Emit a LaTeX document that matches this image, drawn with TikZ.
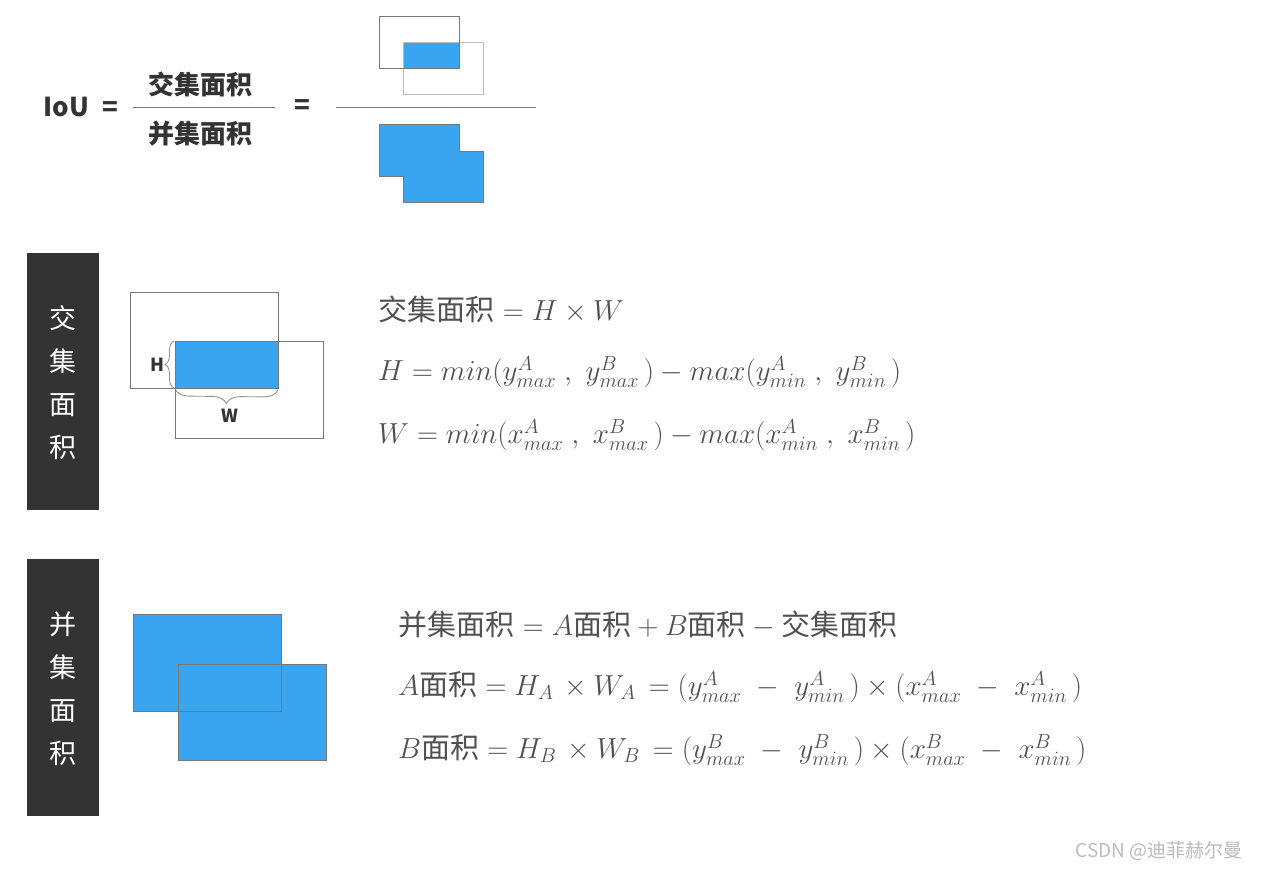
\RequirePackage{fix-cm}
\documentclass[tikz,border=0pt]{standalone}
\usepackage{amsmath}
\usepackage{fontspec}
\newfontfamily\cjk{Noto Sans CJK SC}
\usetikzlibrary{decorations.pathreplacing}
\definecolor{boxblue}{HTML}{39A4EF}
\definecolor{edgegray}{HTML}{777777}
\definecolor{lightedge}{HTML}{BBBBBB}
\definecolor{sidebar}{HTML}{333333}
\definecolor{inkgray}{HTML}{505050}
\tikzset{
  bluebox/.style={fill=boxblue, draw=edgegray, line width=1pt},
  emptybox/.style={draw=edgegray, line width=1pt},
  sidebox/.style={fill=sidebar, draw=none},
  sidetext/.style={text=white, font=\cjk\fontsize{27}{43}\selectfont, align=center},
  eqn/.style={anchor=west, text=inkgray, inner sep=0pt, font=\fontsize{29}{34}\selectfont},
  boldtext/.style={text=sidebar, font=\cjk\bfseries\fontsize{26}{30}\selectfont},
  bracelabel/.style={text=sidebar, font=\cjk\bfseries\fontsize{18}{20}\selectfont},
  fracline/.style={draw=edgegray, line width=1pt},
  brace/.style={decorate, decoration={brace, amplitude=#1}, draw=edgegray!80, line width=0.9pt}
}
\begin{document}
\begin{tikzpicture}[x=1pt, y=-1pt]
  \useasboundingbox (0,0) rectangle (1261,870);

  % IoU as a fraction
  \node[boldtext] (iou) at (81,107) {IoU\,\,\,=};
  \draw[fracline] (133,107) -- (275,107);
  \node[boldtext] (inter) at (200,84) {交集面积};
  \node[boldtext] (union) at (200,134) {并集面积};
  \node[boldtext] (eq) at (302,107) {=};
  \draw[fracline] (336,107) -- (536,107);

  % Small picture over the line
  \fill[boxblue] (403,42) rectangle (459,68);
  \draw[draw=lightedge, line width=1pt] (403,42) rectangle (483,94);
  \draw[draw=edgegray, line width=1pt] (379,16) rectangle (459,68);

  % Small picture under the line
  \draw[bluebox] (379,124) -| (459,151) -| (483,202) -| (403,176) -| cycle;

  % Intersection part
  \fill[sidebox] (27,253) rectangle (99,510);
  \node[sidetext] (side1) at (63,383) {交\\集\\面\\积};

  \draw[emptybox] (130,292) rectangle (278,388);
  \draw[emptybox] (175,341) rectangle (323,438);
  \draw[bluebox] (175,341) rectangle (278,388);
  \coordinate (hbot) at (175,388);
  \coordinate (htop) at (175,341);
  \coordinate (wright) at (278,389);
  \draw[brace=9pt] ([xshift=-1pt]hbot) -- ([xshift=-1pt]htop);
  \draw[brace=14pt] ([yshift=-1pt]wright) -- ([yshift=-1pt]hbot);
  \node[bracelabel] (hlabel) at (157,365) {H};
  \node[bracelabel] (wlabel) at (230,416) {W};

  \node[eqn] (area) at (378,309) {{\cjk 交集面积} $= H \times W$};
  \node[eqn] (heq) at (378,372) {$H = min(y^A_{max}\;,\ y^B_{max}\,) - max(y^A_{min}\;,\ y^B_{min}\,)$};
  \node[eqn] (weq) at (378,435) {$W = min(x^A_{max}\;,\ x^B_{max}\,) - max(x^A_{min}\;,\ x^B_{min}\,)$};

  % Union part
  \fill[sidebox] (27,559) rectangle (99,816);
  \node[sidetext] (side2) at (63,689) {并\\集\\面\\积};

  \draw[bluebox] (133,614) rectangle (281,711);
  \draw[bluebox] (178,664) rectangle (326,760);
  \draw[emptybox] (133,614) rectangle (281,711);

  \node[eqn] (uarea) at (398,624) {{\cjk 并集面积} $= A\text{\cjk 面积} + B\text{\cjk 面积} - \text{\cjk 交集面积}$};
  \node[eqn] (aeq) at (398,687) {$A\text{\cjk 面积} = H_A\, \times W_A\, = (y^A_{max}\ -\ y^A_{min}\,) \times (x^A_{max}\ -\ x^A_{min}\,)$};
  \node[eqn] (beq) at (398,750) {$B\text{\cjk 面积} = H_B\, \times W_B\, = (y^B_{max}\ -\ y^B_{min}\,) \times (x^B_{max}\ -\ x^B_{min}\,)$};

  % Watermark
  \node[anchor=east, text=lightedge, font=\cjk\fontsize{19}{22}\selectfont] (mark) at (1246,851) {CSDN @迪菲赫尔曼};
\end{tikzpicture}
\end{document}
